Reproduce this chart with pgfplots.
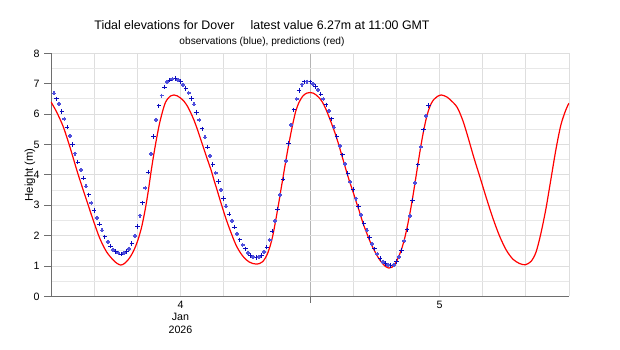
\documentclass[border=0pt]{standalone}
\usepackage{fontspec}
\setmainfont{Liberation Sans}
\usepackage{pgfplots}
\pgfplotsset{compat=1.18}
\definecolor{obsblue}{RGB}{10,10,190}
\definecolor{obslight}{RGB}{80,80,220}
\definecolor{gridc}{RGB}{222,222,222}
\definecolor{gridm}{RGB}{180,180,180}
\definecolor{axisc}{RGB}{110,110,110}

\begin{document}
\begin{tikzpicture}
\begin{axis}[
  name=ax, at={(0,0)}, anchor=south west,
  scale only axis, width=388.5pt, height=182.25pt,
  xmin=0, xmax=48, ymin=0, ymax=8,
  axis x line*=bottom, axis y line*=left,
  axis line style={axisc, line width=0.6pt, -},
  ytick={0,...,8}, minor y tick num=1,
  xtick={24}, xticklabels={},
  minor xtick={0,4,...,48},
  grid=both,
  major x grid style={gridm, line width=0.6pt},
  minor x grid style={gridc, line width=0.6pt},
  major y grid style={gridc, line width=0.6pt},
  minor y grid style={gridc!70!white, line width=0.6pt},
  tick align=outside, major tick length=5pt, minor tick length=0pt,
  tick style={axisc, line width=0.6pt},
  tick label style={font=\fontsize{8}{9.4}\selectfont, black},
  /pgf/number format/assume math mode=true,
  extra x ticks={12,36},
  extra x tick labels={{4\\Jan\\2026},{5}},
  extra x tick style={grid=none, major tick length=0pt,
    tick label style={align=center, font=\fontsize{8}{9.4}\selectfont}},
]
% predictions
\addplot[red, line width=0.9pt, smooth, no markers] coordinates {
(0.00,6.40)(0.52,6.07)(1.14,5.58)(1.75,4.92)(2.37,4.18)(2.68,3.83)(3.29,3.17)(3.91,2.51)
(4.52,1.91)(5.14,1.47)(5.75,1.20)(6.10,1.09)(6.46,1.03)(6.80,1.08)(7.14,1.20)(7.45,1.36)
(7.76,1.58)(8.07,1.87)(8.37,2.24)(8.60,2.62)(8.83,3.06)(9.05,3.55)(9.25,4.05)(9.50,4.62)
(9.76,5.15)(10.05,5.68)(10.37,6.13)(10.60,6.38)(10.83,6.51)(11.10,6.60)(11.39,6.63)(11.70,6.60)
(12.00,6.53)(12.33,6.42)(12.64,6.26)(12.94,6.05)(13.25,5.80)(13.56,5.50)(13.88,5.16)(14.20,4.82)
(14.52,4.48)(14.84,4.15)(15.11,3.82)(15.39,3.50)(15.65,3.19)(15.91,2.89)(16.22,2.55)(16.53,2.24)
(16.84,1.95)(17.14,1.69)(17.45,1.49)(17.76,1.33)(18.07,1.21)(18.37,1.13)(18.70,1.08)(19.05,1.06)
(19.33,1.08)(19.61,1.14)(19.84,1.25)(20.07,1.41)(20.30,1.65)(20.53,1.96)(20.76,2.38)(20.99,2.84)
(21.15,3.17)(21.30,3.50)(21.46,3.83)(21.61,4.15)(21.90,4.75)(22.19,5.30)(22.45,5.75)(22.70,6.12)
(23.00,6.40)(23.35,6.60)(23.70,6.69)(24.00,6.71)(24.30,6.69)(24.53,6.64)(24.84,6.54)(25.14,6.40)
(25.45,6.18)(25.76,5.91)(26.07,5.62)(26.38,5.31)(26.69,4.96)(26.99,4.59)(27.25,4.27)(27.50,3.97)
(27.75,3.69)(28.00,3.43)(28.25,3.14)(28.50,2.88)(28.75,2.59)(29.00,2.32)(29.25,2.09)(29.50,1.86)
(29.75,1.66)(30.00,1.48)(30.25,1.32)(30.50,1.18)(30.75,1.07)(31.00,0.98)(31.30,0.93)(31.60,0.96)
(31.83,1.04)(32.05,1.17)(32.29,1.37)(32.50,1.57)(32.75,1.88)(33.00,2.27)(33.25,2.72)(33.50,3.22)
(33.75,3.78)(34.00,4.35)(34.25,4.90)(34.50,5.40)(34.75,5.82)(35.00,6.14)(35.25,6.36)(35.50,6.49)
(35.80,6.58)(36.17,6.63)(36.70,6.56)(37.15,6.42)(37.50,6.29)(37.77,6.13)(38.20,5.75)(38.69,5.18)
(39.20,4.55)(39.77,3.90)(40.33,3.25)(40.95,2.57)(41.57,1.98)(42.19,1.52)(42.81,1.22)(43.42,1.08)
(43.95,1.04)(44.48,1.15)(44.94,1.45)(45.40,2.08)(45.87,2.90)(46.33,3.87)(46.80,4.86)(47.26,5.66)
(47.72,6.15)(48.00,6.36)
};
% observations on the hour and half hour
\addplot[only marks, mark=+, mark size=1.7pt, obsblue, mark options={line width=0.75pt}] coordinates {
(0.50,6.50)(1.00,6.08)(1.50,5.57)(2.00,5.00)
(2.50,4.42)(3.00,3.89)(3.50,3.34)(4.00,2.82)
(4.50,2.38)(5.00,1.96)(5.50,1.65)(6.00,1.47)
(6.50,1.39)(7.00,1.47)(7.50,1.74)(8.00,2.30)
(8.50,3.08)(9.00,4.09)(9.50,5.26)(10.00,6.27)
(10.50,6.89)(11.00,7.12)(11.50,7.17)(12.00,7.07)
(12.50,6.84)(13.00,6.51)(13.50,6.06)(14.00,5.51)
(14.50,4.91)(15.00,4.34)(15.50,3.78)(16.00,3.22)
(16.50,2.71)(17.00,2.28)(17.50,1.86)(18.00,1.56)
(18.50,1.35)(19.00,1.27)(19.50,1.34)(20.00,1.62)
(20.50,2.15)(21.00,2.87)(21.50,3.86)(22.00,5.04)
(22.50,6.14)(23.00,6.78)(23.50,7.06)(24.00,7.06)
(24.50,6.90)(25.00,6.66)(25.50,6.30)(26.00,5.84)
(26.50,5.26)(27.00,4.66)(27.50,4.05)(28.00,3.51)
(28.50,2.96)(29.00,2.40)(29.50,1.94)(30.00,1.56)
(30.50,1.25)(31.00,1.08)(31.50,1.01)(32.00,1.14)
(32.50,1.51)(33.00,2.19)(33.50,3.16)(34.00,4.33)
(34.50,5.48)(35.00,6.28)
};
% observations at quarter past and quarter to
\addplot[only marks, mark=+, mark size=1.5pt, obslight, mark options={line width=1.3pt}] coordinates {
(0.25,6.68)(0.75,6.33)(1.25,5.84)(1.75,5.28)
(2.25,4.70)(2.75,4.15)(3.25,3.62)(3.75,3.07)
(4.25,2.58)(4.75,2.17)(5.25,1.80)(5.75,1.53)
(6.25,1.42)(6.75,1.42)(7.25,1.57)(7.75,1.99)
(8.25,2.66)(8.75,3.57)(9.25,4.69)(9.75,5.80)
(10.25,6.61)(10.75,7.06)(11.25,7.15)(11.75,7.12)
(12.25,6.95)(12.75,6.70)(13.25,6.32)(13.75,5.80)
(14.25,5.23)(14.75,4.62)(15.25,4.05)(15.75,3.50)
(16.25,2.96)(16.75,2.49)(17.25,2.06)(17.75,1.69)
(18.25,1.42)(18.75,1.29)(19.25,1.29)(19.75,1.45)
(20.25,1.86)(20.75,2.48)(21.25,3.33)(21.75,4.45)
(22.25,5.63)(22.75,6.49)(23.25,6.97)(23.75,7.07)
(24.25,6.99)(24.75,6.79)(25.25,6.49)(25.75,6.10)
(26.25,5.56)(26.75,4.95)(27.25,4.35)(27.75,3.77)
(28.25,3.22)(28.75,2.67)(29.25,2.17)(29.75,1.73)
(30.25,1.39)(30.75,1.14)(31.25,1.03)(31.75,1.04)
(32.25,1.29)(32.75,1.82)(33.25,2.65)(33.75,3.73)
(34.25,4.91)(34.75,5.94)
};
\end{axis}
\node[anchor=base, font=\fontsize{9.3}{11}\selectfont] at (158.25pt,199.9pt)
  {Tidal elevations for Dover\hspace{1.3em}latest value 6.27m at 11:00 GMT};
\node[anchor=base, font=\fontsize{7.6}{9.2}\selectfont] at (158.25pt,189pt)
  {observations (blue), predictions (red)};
\node[rotate=90, font=\fontsize{8.5}{10}\selectfont] at (-15.75pt,91.125pt) {Height (m)};
\pgfresetboundingbox
\path[use as bounding box] (-38.25pt,-40.125pt) rectangle (426.75pt,222.25pt);
\end{tikzpicture}
\end{document}
